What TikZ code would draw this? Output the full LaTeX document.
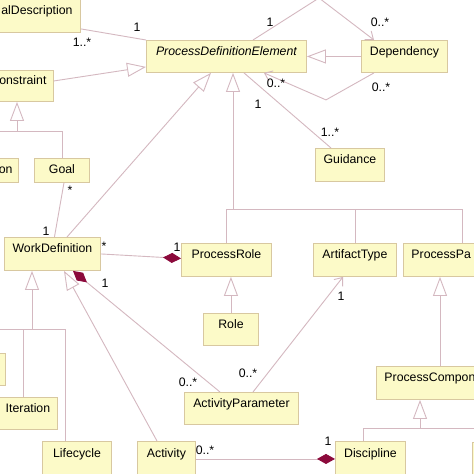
\documentclass[tikz,border=0pt]{standalone}
\usepackage{fontspec}
\setmainfont{Liberation Sans}
\usetikzlibrary{arrows.meta,calc}
\definecolor{boxfill}{HTML}{FCFAC8}
\definecolor{boxline}{HTML}{D8C8A0}
\definecolor{conline}{HTML}{D4B8C0}
\definecolor{diam}{HTML}{8C0A3C}
\begin{document}
\begin{tikzpicture}[x=1pt,y=-1pt,
  cls/.style={draw=boxline, fill=boxfill, line width=0.9pt, font=\fontsize{12.3}{14}\selectfont,
    inner sep=0pt, minimum height=33pt, text height=9pt, text depth=11.4pt, anchor=north west},
  clss/.style={cls, minimum height=24pt, text depth=2.4pt},
  clsb/.style={cls, minimum height=40pt, text depth=16.4pt},
  plain/.style={draw=conline, line width=0.9pt},
  gen/.style={plain, -{Triangle[open, length=19pt, width=14pt, fill=white]}},
  comp/.style={plain, {Diamond[length=18pt, width=10pt, color=diam]}-},
  nav/.style={plain, -{Straight Barb[length=7pt, width=11pt]}},
  lab/.style={font=\fontsize{12.3}{14}\selectfont, inner sep=0pt}]
\useasboundingbox (0,0) rectangle (474,474);
\fill[white] (0,0) rectangle (474,474);

% classes
\node[cls, minimum width=120pt, inner xsep=8pt, text width=104pt, align=right] (gd) at (-40,-1) {alDescription};
\node[cls, minimum width=160pt, minimum height=32pt] (pde) at (146,40) {\itshape ProcessDefinitionElement};
\node[cls, minimum width=86pt, minimum height=32pt] (dep) at (361,40) {Dependency};
\node[cls, minimum width=93pt, minimum height=31pt, inner xsep=7pt, text width=79pt, align=right] (con) at (-40,70) {onstraint};
\node[clss, minimum width=58pt, inner xsep=6pt, text width=46pt, align=right] (onb) at (-40,158) {on};
\node[clss, minimum width=55pt] (goal) at (34,158) {Goal};
\node[cls, minimum width=69pt] (guid) at (315,148) {Guidance};
\node[cls, minimum width=96pt] (wd) at (4,237) {WorkDefinition};
\node[cls, minimum width=90pt] (pr) at (181,243) {ProcessRole};
\node[cls, minimum width=83pt] (at) at (313,243) {ArtifactType};
\node[cls, minimum width=117pt, inner xsep=8pt, text width=101pt, align=left] (pp) at (403,243) {ProcessPa};
\node[cls, minimum width=55pt, minimum height=32pt] (role) at (203,313) {Role};
\node[cls, minimum width=45pt, minimum height=32pt] (lbox) at (-40,353) {};
\node[cls, minimum width=59pt, minimum height=32pt] (iter) at (-2,397) {Iteration};
\node[cls, minimum width=114pt, minimum height=32pt] (ap) at (184,392) {ActivityParameter};
\node[cls, minimum width=144pt, inner xsep=8pt, text width=128pt, align=left] (pc) at (376,366) {ProcessCompon};
\node[clsb, minimum width=69pt] (life) at (42,441) {Lifecycle};
\node[clsb, minimum width=58pt] (act) at (137,441) {Activity};
\node[clsb, minimum width=70pt] (disc) at (335,441) {Discipline};
\node[clsb, minimum width=50pt] (rbox) at (472,442) {};

% connectors
\coordinate (a1) at ([yshift=4pt]gd.south east);
\draw[plain] (a1) -- (pde.north west);
\draw[gen] ([yshift=5pt]con.east) -- ([yshift=6pt]pde.south west);

\coordinate (j1) at ([xshift=57pt,yshift=-30pt]con.south west);
\draw[gen] (j1) -- (j1 |- con.south);
\draw[plain] (goal.north) |- (j1) -- ++(-40,0);

\draw[plain] ([xshift=2pt]goal.south) -- ([xshift=2pt]wd.north);
\draw[gen] ([xshift=63pt]wd.north west) -- ([xshift=65pt]pde.south west);

\coordinate (j2) at ([xshift=87pt,yshift=-137pt]pde.south west);
\draw[gen] (j2) -- (j2 |- pde.south);
\draw[plain] (pr.north) |- (pp.north |- j2) -- (pp.north);
\draw[plain] (at.north) -- (at.north |- j2);

\draw[plain] ([xshift=98pt]pde.south west) -- ([xshift=16pt]guid.north west);

\coordinate (apex) at ([xshift=173pt,yshift=42pt]pde.north west);
\draw[nav] ([xshift=107pt]pde.north west) -- (apex) -- ([xshift=13pt]dep.north west);
\coordinate (vbot) at ([xshift=180pt,yshift=-27pt]pde.south west);
\draw[nav] ([xshift=13pt]dep.south west) -- (vbot) -- ([xshift=118pt]pde.south west);
\draw[gen] (dep.west) -- (pde.east);

\draw[comp] ([yshift=1.5pt]pr.west) -- (wd.east);
\draw[gen] (role.north) -- (role.north |- pr.south);

\coordinate (j3) at ([xshift=28pt,yshift=-59pt]wd.south west);
\draw[gen] (j3) -- (j3 |- wd.south);
\coordinate (lt) at ([xshift=23pt]life.north west);
\draw[plain] (lt) |- (j3) -- ++(-50,0);
\coordinate (it) at ([xshift=25pt]iter.north west);
\draw[plain] (it) -- (it |- j3);

\draw[gen] ([xshift=20pt]act.north west) -- ([xshift=60pt]wd.south west);
\draw[comp] ([xshift=69pt]wd.south west) -- ([xshift=36pt]ap.north west);
\draw[nav] ([xshift=69pt]ap.north west) -- ([xshift=30pt]at.south west);
\draw[comp] ([yshift=2.5pt]disc.west) -- ([yshift=2.5pt]act.east);

\coordinate (j4) at ([xshift=44pt,yshift=-29pt]pc.south west);
\draw[gen] (j4) -- (j4 |- pc.south);
\coordinate (dt) at ([xshift=28pt]disc.north west);
\draw[plain] (dt) |- (j4) -- ++(70,0);
\coordinate (pt) at ([xshift=37pt]pp.south west);
\draw[gen] (pt |- pc.north) -- (pt);

% multiplicities
\node[lab] (m1) at (137,27) {1};
\node[lab] (m2) at (82,42) {1..*};
\node[lab] (m3) at (270,22) {1};
\node[lab] (m4) at (380,22) {0..*};
\node[lab] (m5) at (276,83) {0..*};
\node[lab] (m6) at (381,87) {0..*};
\node[lab] (m7) at (258,104) {1};
\node[lab] (m8) at (330,132) {1..*};
\node[lab] (m9) at (70,190.5) {*};
\node[lab] (m10) at (46,231) {1};
\node[lab] (m11) at (104,246.5) {*};
\node[lab] (m12) at (177,247) {1};
\node[lab] (m13) at (105,283) {1};
\node[lab] (m14) at (341,296) {1};
\node[lab] (m15) at (188,382) {0..*};
\node[lab] (m16) at (248,373) {0..*};
\node[lab] (m17) at (205,450) {0..*};
\node[lab] (m18) at (328,441) {1};
\end{tikzpicture}
\end{document}
